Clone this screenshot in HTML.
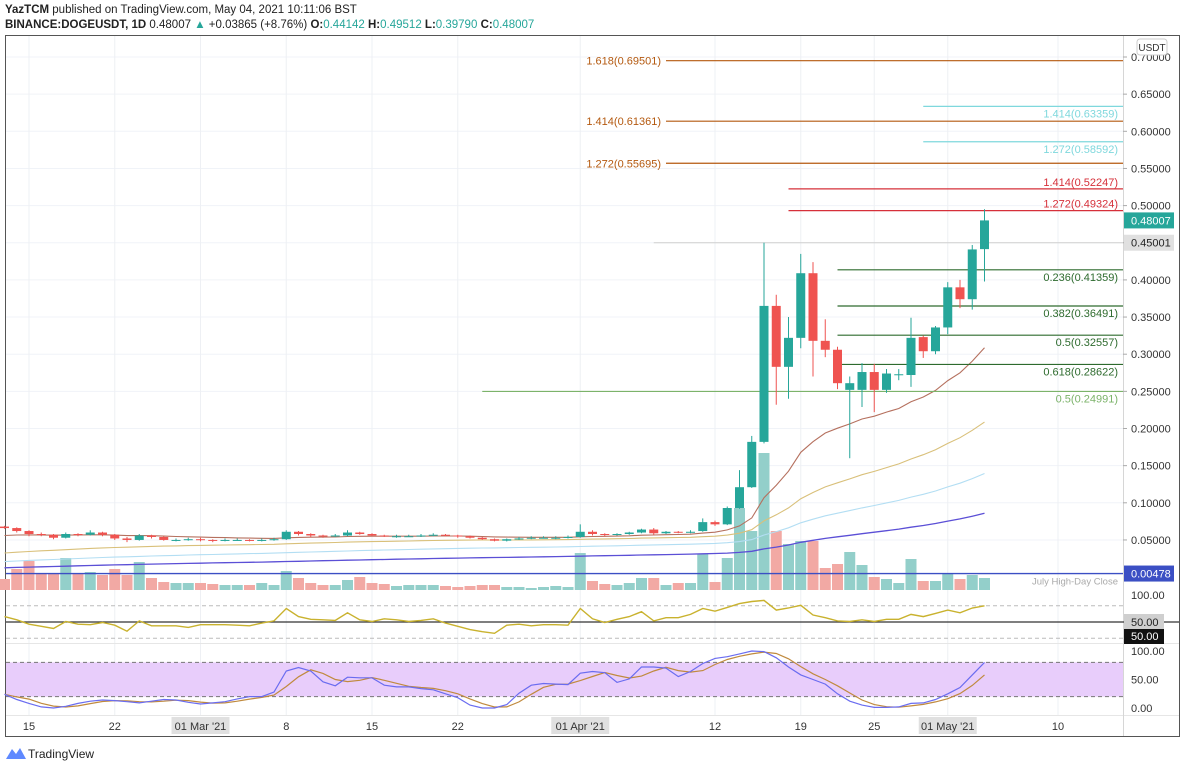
<!DOCTYPE html>
<html><head><meta charset="utf-8">
<style>
html,body{margin:0;padding:0;background:#fff;width:1186px;height:768px;overflow:hidden;font-family:"Liberation Sans",sans-serif;}
#hdr{position:absolute;left:5px;top:3px;font-size:11.5px;color:#222;line-height:15px;}
#hdr b{font-weight:bold}
.tl{color:#26a69a}
svg{position:absolute;left:0;top:0}
</style></head><body>
<div id="hdr">
<div><b>YazTCM</b> published on TradingView.com, May 04, 2021 10:11:06 BST</div>
<div><b>BINANCE:DOGEUSDT, 1D</b> 0.48007 <span class="tl">▲</span> +0.03865 (+8.76%) <b>O:</b><span class="tl">0.44142</span> <b>H:</b><span class="tl">0.49512</span> <b>L:</b><span class="tl">0.39790</span> <b>C:</b><span class="tl">0.48007</span></div>
</div>
<svg id="chart" width="1186" height="768"></svg>
<script>
const opens=[0.068,0.066,0.062,0.058,0.057,0.053,0.058,0.057,0.060,0.057,0.052,0.050,0.056,0.054,0.050,0.050,
0.051,0.050,0.049,0.050,0.050,0.049,0.050,0.051,0.061,0.058,0.056,0.055,0.056,0.060,0.058,0.056,0.055,0.055,0.055,0.056,0.057,0.056,0.055,0.053,0.051,0.049,0.051,0.052,0.053,0.053,0.053,
0.054,0.061,0.058,0.057,0.058,0.060,0.064,0.059,0.061,0.060,0.062,0.074,0.071,0.093,0.121,0.182,0.365,0.283,0.322,0.409,0.318,0.306,0.252,0.252,0.276,0.252,0.272,0.272,0.323,0.304,0.336,0.390,0.374,0.44142];
const closes=[0.066,0.062,0.058,0.057,0.053,0.058,0.057,0.060,0.057,0.052,0.050,0.056,0.054,0.050,0.050,0.051,
0.050,0.049,0.050,0.050,0.049,0.050,0.051,0.061,0.058,0.056,0.055,0.056,0.060,0.058,0.056,0.055,0.055,0.055,0.056,0.057,0.056,0.055,0.053,0.051,0.049,0.051,0.052,0.053,0.053,0.053,0.054,
0.061,0.058,0.057,0.058,0.060,0.064,0.059,0.061,0.060,0.061,0.074,0.071,0.093,0.121,0.182,0.365,0.283,0.322,0.409,0.318,0.306,0.261,0.261,0.276,0.252,0.274,0.273,0.322,0.304,0.336,0.390,0.374,0.441,0.48007];
const highs=[0.069,0.067,0.063,0.060,0.058,0.060,0.059,0.063,0.061,0.058,0.054,0.058,0.057,0.055,0.052,0.053,
0.053,0.051,0.052,0.052,0.051,0.052,0.053,0.063,0.062,0.059,0.057,0.058,0.063,0.061,0.059,0.057,0.057,0.057,0.058,0.059,0.058,0.057,0.056,0.054,0.052,0.052,0.054,0.055,0.055,0.055,0.056,
0.071,0.063,0.059,0.059,0.061,0.065,0.066,0.062,0.062,0.063,0.079,0.076,0.095,0.144,0.190,0.450,0.380,0.350,0.435,0.424,0.347,0.310,0.270,0.288,0.287,0.280,0.280,0.349,0.325,0.338,0.397,0.400,0.447,0.49512];
const lows=[0.065,0.060,0.055,0.055,0.051,0.052,0.055,0.056,0.055,0.050,0.047,0.049,0.052,0.049,0.048,0.049,
0.048,0.047,0.048,0.049,0.048,0.048,0.049,0.050,0.056,0.054,0.053,0.054,0.055,0.057,0.055,0.054,0.053,0.054,0.054,0.055,0.055,0.053,0.052,0.050,0.048,0.048,0.050,0.051,0.052,0.051,0.052,
0.053,0.056,0.055,0.056,0.057,0.059,0.057,0.058,0.059,0.059,0.061,0.069,0.070,0.092,0.120,0.180,0.232,0.240,0.308,0.270,0.296,0.253,0.160,0.229,0.222,0.248,0.265,0.256,0.295,0.300,0.327,0.362,0.360,0.3979];
const volumes=[11,21,29,17,16,32,17,18,15,21,15,28,12,8,7,7,7,6,5,5,5,7,5,19,12,7,5,5,10,13,7,6,4,5,5,5,4,3,4,5,5,3,3,2,3,4,3,
37,9,6,5,7,12,12,5,7,7,36,8,32,82,59,137,59,46,49,49,22,26,38,25,13,11,7,31,9,9,16,11,15,12];
const rsiVals=[60,54,46,42,38,51,46,45,49,44,33,52,43,43,43,40,45,45,45,44,43,48,52,75,60,55,54,53,67,54,51,56,54,51,53,56,48,42,36,32,29,44,46,43,45,45,44,75,56,49,55,60,69,52,58,58,64,75,70,77,84,88,90,72,76,81,63,58,52,51,54,51,55,55,64,60,66,72,67,76,80];
const stochK=[24,15,8,2,0,3,8,12,14,13,11,9,12,15,14,10,7,9,11,16,20,20,28,65,71,65,46,39,54,53,53,40,37,37,34,32,25,18,5,0,0,6,26,40,43,42,41,61,64,62,45,51,72,72,70,55,64,78,87,90,95,100,99,88,72,58,50,42,25,12,5,1,1,2,8,9,15,25,36,58,80];
const priceTicks=["0.70000","0.65000","0.60000","0.55000","0.50000","0.45000","0.40000","0.35000","0.30000","0.25000","0.20000","0.15000","0.10000","0.05000"];
const priceTickVals=[0.70,0.65,0.60,0.55,0.50,0.45,0.40,0.35,0.30,0.25,0.20,0.15,0.10,0.05];
const dateLabels=["15","22","01 Mar '21","8","15","22","01 Apr '21","12","19","25","01 May '21","10"];
const dateIdx=[2,9,16,23,30,37,47,58,65,71,77,86];
const fibLevels=[
 {t:"1.618(0.69501)",v:0.69501,c:"#b4590f",from:54,side:"left"},
 {t:"1.414(0.63359)",v:0.63359,c:"#7fd8dd",from:75,side:"below"},
 {t:"1.414(0.61361)",v:0.61361,c:"#b4590f",from:54,side:"left"},
 {t:"1.272(0.58592)",v:0.58592,c:"#7fd8dd",from:75,side:"below"},
 {t:"1.272(0.55695)",v:0.55695,c:"#b4590f",from:54,side:"left"},
 {t:"1.414(0.52247)",v:0.52247,c:"#d6303a",from:64,side:"above"},
 {t:"1.272(0.49324)",v:0.49324,c:"#d6303a",from:64,side:"above"},
 {t:"0.236(0.41359)",v:0.41359,c:"#2e6b2e",from:68,side:"below"},
 {t:"0.382(0.36491)",v:0.36491,c:"#2e6b2e",from:68,side:"below"},
 {t:"0.5(0.32557)",v:0.32557,c:"#2e6b2e",from:68,side:"below"},
 {t:"0.618(0.28622)",v:0.28622,c:"#2e6b2e",from:68,side:"below"},
 {t:"0.5(0.24991)",v:0.24991,c:"#7cb36a",from:39,side:"below"}
];
const emaLens=[20,50,100,200];
const emaSeeds=[0.055,0.031,0.020,0.012];
const emaColors=["#b5705e","#d9c07a","#b3def3","#5b4fd6"];

const NS="http://www.w3.org/2000/svg";
const svg=document.getElementById('chart');
function el(tag,attrs,parent){const e=document.createElementNS(NS,tag);for(const k in attrs)e.setAttribute(k,attrs[k]);(parent||svg).appendChild(e);return e;}
const X0=4.5,STEP=12.25;
const xOf=i=>X0+i*STEP;
const yP=p=>57+(0.70-p)*743;
const VBASE=590,VSC=1.0;
const yV=v=>VBASE-v*VSC;
const yR=v=>649-v*0.54;
const yS=v=>708-v*0.57;
const R=1123;

let e;
e=el('rect',{x:5.5,y:35.5,width:1174,height:701,fill:'#fff',stroke:'#555','stroke-width':1});


const grid=el('g',{});


priceTickVals.forEach(v=>{el('line',{x1:6,x2:R,y1:yP(v),y2:yP(v),stroke:'#f0f3f8'},grid);});
dateIdx.forEach(d=>{el('line',{x1:xOf(d),x2:xOf(d),y1:36,y2:715,stroke:'#eef0f4'},grid);});
el('line',{x1:6,x2:1179,y1:643.5,y2:643.5,stroke:'#e6e6e6'});
el('line',{x1:6,x2:1179,y1:715.5,y2:715.5,stroke:'#e6e6e6'});
el('line',{x1:R+.5,x2:R+.5,y1:36,y2:736,stroke:'#d6d6d6'});

const vg=el('g',{});


volumes.forEach((v,i)=>{
 const up=closes[i]>=opens[i];
 const r=el('rect',{x:xOf(i)-5.5,y:yV(v),width:11,height:v*VSC,fill:up?'#93cfca':'#f2a9a4'},vg);
 
 
});
e=el('line',{x1:6,x2:R,y1:yP(0.00478),y2:yP(0.00478),stroke:'#3b4fc4','stroke-width':1.3});


e=el('text',{x:1118,y:yP(0.00478)+11,'font-size':9.5,fill:'#aaa','text-anchor':'end'});
e.textContent="July High-Day Close";



emaLens.forEach((L,k)=>{
 const a=2/(L+1);let m=emaSeeds[k];const pts=[];
 closes.forEach((c,i)=>{m=m+a*(c-m);pts.push(xOf(i).toFixed(1)+','+yP(m).toFixed(1));});
 const p=el('polyline',{points:pts.join(' '),fill:'none',stroke:emaColors[k],'stroke-width':k==3?1.3:1.1});
 
 
});

e=el('line',{x1:xOf(53),x2:R,y1:yP(0.45001),y2:yP(0.45001),stroke:'#d0d0d0'});



fibLevels.forEach(f=>{
 const y=yP(f.v);
 const g=el('g',{});
 
 
 el('line',{x1:xOf(f.from),x2:R,y1:y,y2:y,stroke:f.c,'stroke-width':1.2},g);
 const t=el('text',{'font-size':11,fill:f.c},g);
 if(f.side==='left'){t.setAttribute('x',xOf(f.from)-5);t.setAttribute('y',y+4);t.setAttribute('text-anchor','end');}
 else if(f.side==='above'){t.setAttribute('x',1118);t.setAttribute('y',y-3);t.setAttribute('text-anchor','end');}
 else {t.setAttribute('x',1118);t.setAttribute('y',y+11);t.setAttribute('text-anchor','end');}
 t.textContent=f.t;
});

const cg=el('g',{});


opens.forEach((o,i)=>{
 const c=closes[i],up=c>=o,col=up?'#26a69a':'#ef5350',x=xOf(i);
 const g=el('g',{},cg);
 
 
 el('line',{x1:x,x2:x,y1:yP(highs[i]),y2:yP(lows[i]),stroke:col,'stroke-width':1},g);
 const t=yP(Math.max(o,c)),b=yP(Math.min(o,c));
 el('rect',{x:x-4.5,y:t,width:9,height:Math.max(1,b-t),fill:col},g);
});

const ax=el('g',{});


priceTicks.forEach((s,i)=>{
 const y=yP(priceTickVals[i]);
 el('line',{x1:R,x2:R+4,y1:y,y2:y,stroke:'#aaa'},ax);
 const t=el('text',{x:1131,y:y+4,'font-size':11,fill:'#333'},ax);t.textContent=s;
});
e=el('rect',{x:1137,y:39,width:30,height:16,rx:3,fill:'#fff',stroke:'#ccc'});


e=el('text',{x:1152,y:51,'font-size':10,fill:'#333','text-anchor':'middle'});e.textContent='USDT';
function tag(y,txt,bg,fg,name){
 const g=el('g',{});
 
 
 el('rect',{x:R+1,y:y-8,width:50,height:16,fill:bg},g);
 const t=el('text',{x:1131,y:y+4,'font-size':11,fill:fg},g);t.textContent=txt;
}
tag(yP(0.48007),'0.48007','#26a69a','#fff','last-price-tag');
tag(yP(0.45001),'0.45001','#e0e0e0','#222','high-price-tag');
tag(yP(0.00478),'0.00478','#3b4fc4','#fff','july-close-tag');

const rg=el('g',{});


el('line',{x1:6,x2:R,y1:yR(80),y2:yR(80),stroke:'#bbb','stroke-dasharray':'4,3'},rg);
el('line',{x1:6,x2:R,y1:yR(20),y2:yR(20),stroke:'#bbb','stroke-dasharray':'4,3'},rg);
el('line',{x1:6,x2:1179,y1:yR(50),y2:yR(50),stroke:'#333','stroke-width':1.2},rg);
e=el('polyline',{points:rsiVals.map((v,i)=>xOf(i).toFixed(1)+','+yR(v).toFixed(1)).join(' '),fill:'none',stroke:'#c9b22e','stroke-width':1.4},rg);


e=el('text',{x:1131,y:yR(100)+4,'font-size':11,fill:'#333'},rg);e.textContent='100.00';
el('rect',{x:R+1,y:yR(50)-8,width:40,height:15,fill:'#cfcfcf'},rg);
e=el('text',{x:1131,y:yR(50)+4,'font-size':11,fill:'#222'},rg);e.textContent='50.00';
el('rect',{x:R+1,y:629,width:40,height:15,fill:'#111'},rg);
e=el('text',{x:1131,y:640,'font-size':11,fill:'#fff'},rg);e.textContent='50.00';

const sg=el('g',{});


el('rect',{x:6,y:yS(80),width:R-6,height:yS(20)-yS(80),fill:'#e8cdfb'},sg);
el('line',{x1:6,x2:R,y1:yS(80),y2:yS(80),stroke:'#777','stroke-dasharray':'4,3'},sg);
el('line',{x1:6,x2:R,y1:yS(20),y2:yS(20),stroke:'#777','stroke-dasharray':'4,3'},sg);
const dVals=stochK.map((v,i)=>{const s=stochK.slice(Math.max(0,i-2),i+1);return s.reduce((a,b)=>a+b,0)/s.length;});
e=el('polyline',{points:dVals.map((v,i)=>xOf(i).toFixed(1)+','+yS(v).toFixed(1)).join(' '),fill:'none',stroke:'#c08a3e','stroke-width':1.2},sg);


e=el('polyline',{points:stochK.map((v,i)=>xOf(i).toFixed(1)+','+yS(v).toFixed(1)).join(' '),fill:'none',stroke:'#6a6cf0','stroke-width':1.2},sg);


[[100,'100.00'],[50,'50.00'],[0,'0.00']].forEach(([v,s])=>{const t=el('text',{x:1131,y:yS(v)+4,'font-size':11,fill:'#333'},sg);t.textContent=s;});

const tg=el('g',{});


dateLabels.forEach((s,i)=>{
 const x=xOf(dateIdx[i]);
 if(s.length>3){el('rect',{x:x-29,y:717,width:58,height:17,fill:'#e0e0e0'},tg);}
 const t=el('text',{x:x,y:730,'font-size':11,fill:'#333','text-anchor':'middle'},tg);t.textContent=s;
});

const fg=el('g',{});


el('path',{d:'M6 759 L12 749 L16 754 L20 748 L26 759 Z',fill:'#2962ff',opacity:0.75},fg);
e=el('text',{x:28,y:758,'font-size':12,fill:'#222'},fg);e.textContent='TradingView';
</script>
</body></html>
